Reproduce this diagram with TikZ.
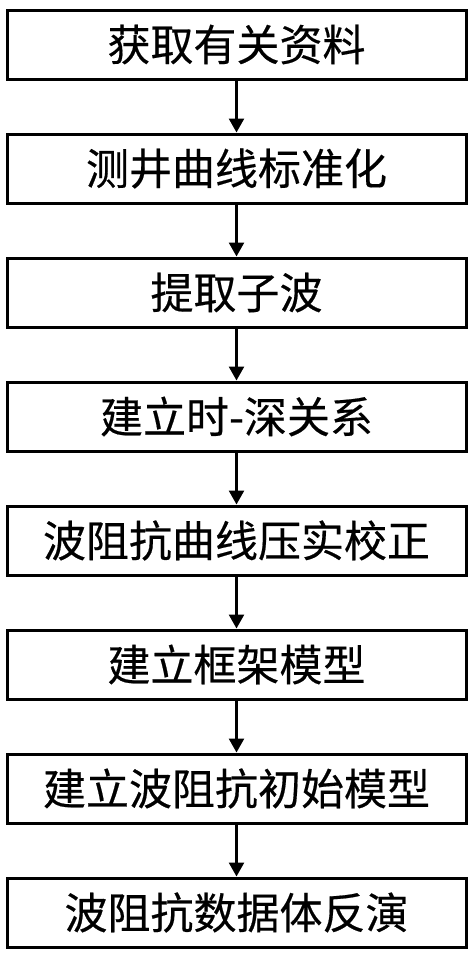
\documentclass[tikz,border=0pt]{standalone}
\usepackage{fontspec}
\setmainfont[FakeBold=0.4]{Noto Sans CJK SC}
\usepackage{tikz}
\usetikzlibrary{arrows.meta, positioning}

\begin{document}
\begin{tikzpicture}[
  x=0.5pt, y=-0.5pt,
  every node/.style={font=\fontsize{21.5}{25}\selectfont},
  stepbox/.style={draw, line width=1.5pt, minimum width=229.5pt, minimum height=34.5pt, inner sep=0pt},
  flow/.style={-{Triangle[width=7.5pt,length=7pt]}, line width=1.3pt}
]
  \useasboundingbox (0,0) rectangle (474,953);
  \foreach \i/\lbl in {1/获取有关资料, 2/测井曲线标准化, 3/提取子波, 4/建立时-深关系,
    5/波阻抗曲线压实校正, 6/建立框架模型, 7/建立波阻抗初始模型, 8/波阻抗数据体反演} {
    \node[stepbox] (s\i) at (236.5,{44.5+124*(\i-1)}) {\lbl};
  }
  \foreach \i in {1,...,7} {
    \pgfmathtruncatemacro\j{\i+1}
    \draw[flow] (s\i) -- (s\j);
  }
\end{tikzpicture}
\end{document}
